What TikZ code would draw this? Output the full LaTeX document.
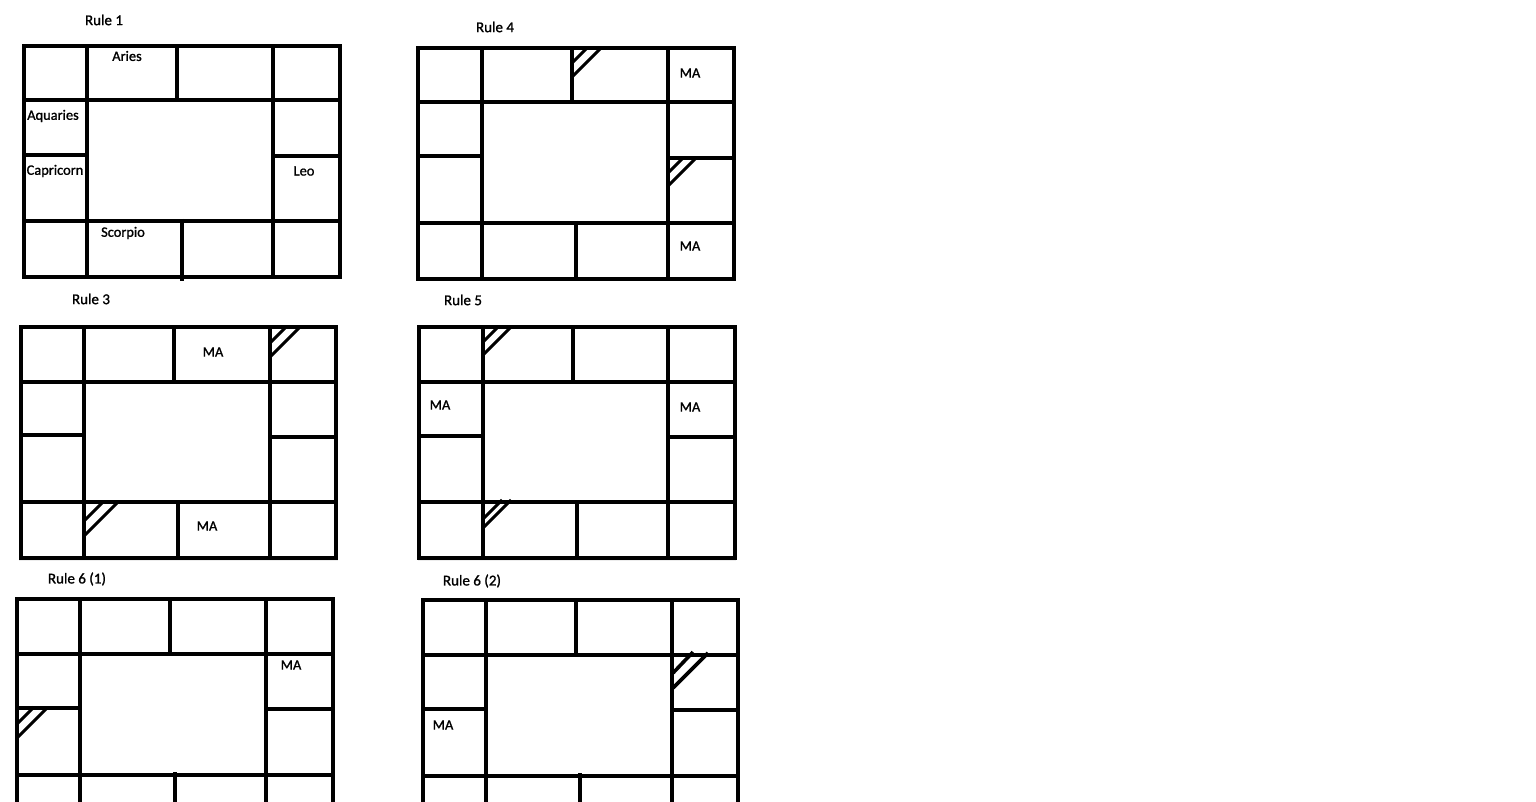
\documentclass[tikz,border=0pt]{standalone}
\usepackage{fontspec}
\setmainfont{Carlito}[FakeBold=1.2]
\begin{document}
\begin{tikzpicture}[x=0.5pt,y=-0.5pt,
  bx/.style={line width=2pt},
  ln/.style={line width=2pt},
  ht/.style={line width=1.5pt},
  lbl/.style={inner sep=0pt,font=\fontsize{7.2}{8}\selectfont},
  ttl/.style={inner sep=0pt,font=\fontsize{7.5}{9}\selectfont}]
\useasboundingbox (0,0) rectangle (1536,802);
\fill[white] (0,0) rectangle (1536,802);
\clip (0,0) rectangle (1536,802);
% faint separator lines
\draw[gray!15,line width=0.6pt] (19,560) -- (338,560);
\draw[gray!15,line width=0.6pt] (418,560) -- (736,560);

% ---------- Rule 1 ----------
\node[ttl] (t1) at (104,20) {Rule 1};
\draw[bx] (24,46) rectangle (340,277);
\draw[ln] (87,46) -- (87,277);
\draw[ln] (273,46) -- (273,279);
\draw[ln] (24,100) -- (340,100);
\draw[ln] (24,221) -- (340,221);
\draw[ln] (177,46) -- (177,102);
\draw[ln] (182,219) -- (182,281);
\draw[ln] (24,155) -- (89,155);
\draw[ln] (271,156) -- (340,156);
\node[lbl] (aries) at (127,56) {Aries};
\node[lbl] (aqua) at (53,116) {Aquaries};
\node[lbl] (capr) at (55,171) {Capricorn};
\node[lbl] (leo) at (304,171) {Leo};
\node[lbl] (scor) at (123,233) {Scorpio};

% ---------- Rule 4 ----------
\node[ttl] (t4) at (495,27) {Rule 4};
\draw[bx] (418,48) rectangle (734,279);
\draw[ln] (482,48) -- (482,279);
\draw[ln] (668,48) -- (668,279);
\draw[ln] (418,102) -- (734,102);
\draw[ln] (418,223) -- (734,223);
\draw[ln] (572,48) -- (572,104);
\draw[ln] (576,221) -- (576,279);
\draw[ln] (418,156) -- (484,156);
\draw[ln] (666,158) -- (734,158);
\draw[ht] (572,63) -- (587,48);
\draw[ht] (572,77) -- (601,48);
\draw[ht] (669,172) -- (683,158);
\draw[ht] (669,185) -- (696,158);
\node[lbl] (ma4a) at (690,73) {MA};
\node[lbl] (ma4b) at (690,246) {MA};

% ---------- Rule 3 ----------
\node[ttl] (t3) at (91,299) {Rule 3};
\draw[bx] (21,327) rectangle (336,558);
\draw[ln] (84,327) -- (84,558);
\draw[ln] (270,327) -- (270,558);
\draw[ln] (21,382) -- (336,382);
\draw[ln] (21,502) -- (336,502);
\draw[ln] (174,327) -- (174,383);
\draw[ln] (178,500) -- (178,558);
\draw[ln] (21,435) -- (86,435);
\draw[ln] (268,437) -- (336,437);
\draw[ht] (271,342) -- (286,327);
\draw[ht] (271,356) -- (300,327);
\draw[ht] (85,520) -- (103,502);
\draw[ht] (85,535) -- (118,502);
\node[lbl] (ma3a) at (213,352) {MA};
\node[lbl] (ma3b) at (207,526) {MA};

% ---------- Rule 5 ----------
\node[ttl] (t5) at (463,300) {Rule 5};
\draw[bx] (419,327) rectangle (735,558);
\draw[ln] (483,327) -- (483,558);
\draw[ln] (668,327) -- (668,558);
\draw[ln] (419,382) -- (735,382);
\draw[ln] (419,502) -- (735,502);
\draw[ln] (573,327) -- (573,384);
\draw[ln] (577,500) -- (577,558);
\draw[ln] (419,436) -- (485,436);
\draw[ln] (666,437) -- (735,437);
\draw[ht] (484,341) -- (498,327);
\draw[ht] (484,354) -- (511,327);
\draw[ht] (484,518) -- (502,500);
\draw[ht] (484,527) -- (511,500);
\node[lbl] (ma5a) at (440,405) {MA};
\node[lbl] (ma5b) at (690,407) {MA};

% ---------- Rule 6 (1) ----------
\node[ttl] (t61) at (77,579) {Rule 6 (1)};
\draw[bx] (17,802) -- (17,599) -- (333,599) -- (333,802);
\draw[ln] (80,599) -- (80,802);
\draw[ln] (266,599) -- (266,802);
\draw[ln] (17,654) -- (333,654);
\draw[ln] (17,775) -- (333,775);
\draw[ln] (170,599) -- (170,656);
\draw[ln] (175,772) -- (175,802);
\draw[ln] (17,708) -- (82,708);
\draw[ln] (264,709) -- (333,709);
\draw[ht] (18,723) -- (34,707);
\draw[ht] (18,737) -- (47,708);
\node[lbl] (ma61) at (291,665) {MA};

% ---------- Rule 6 (2) ----------
\node[ttl] (t62) at (472,581) {Rule 6 (2)};
\draw[bx] (423,802) -- (423,600) -- (738,600) -- (738,802);
\draw[ln] (486,600) -- (486,802);
\draw[ln] (672,600) -- (672,802);
\draw[ln] (423,655) -- (738,655);
\draw[ln] (423,776) -- (738,776);
\draw[ln] (576,600) -- (576,657);
\draw[ln] (580,773) -- (580,802);
\draw[ln] (423,709) -- (488,709);
\draw[ln] (670,710) -- (738,710);
\draw[ht,line width=1.8pt] (673,673) -- (693,652);
\draw[ht,line width=1.8pt] (673,688) -- (708,653);
\node[lbl] (ma62) at (443,725) {MA};
\end{tikzpicture}
\end{document}
